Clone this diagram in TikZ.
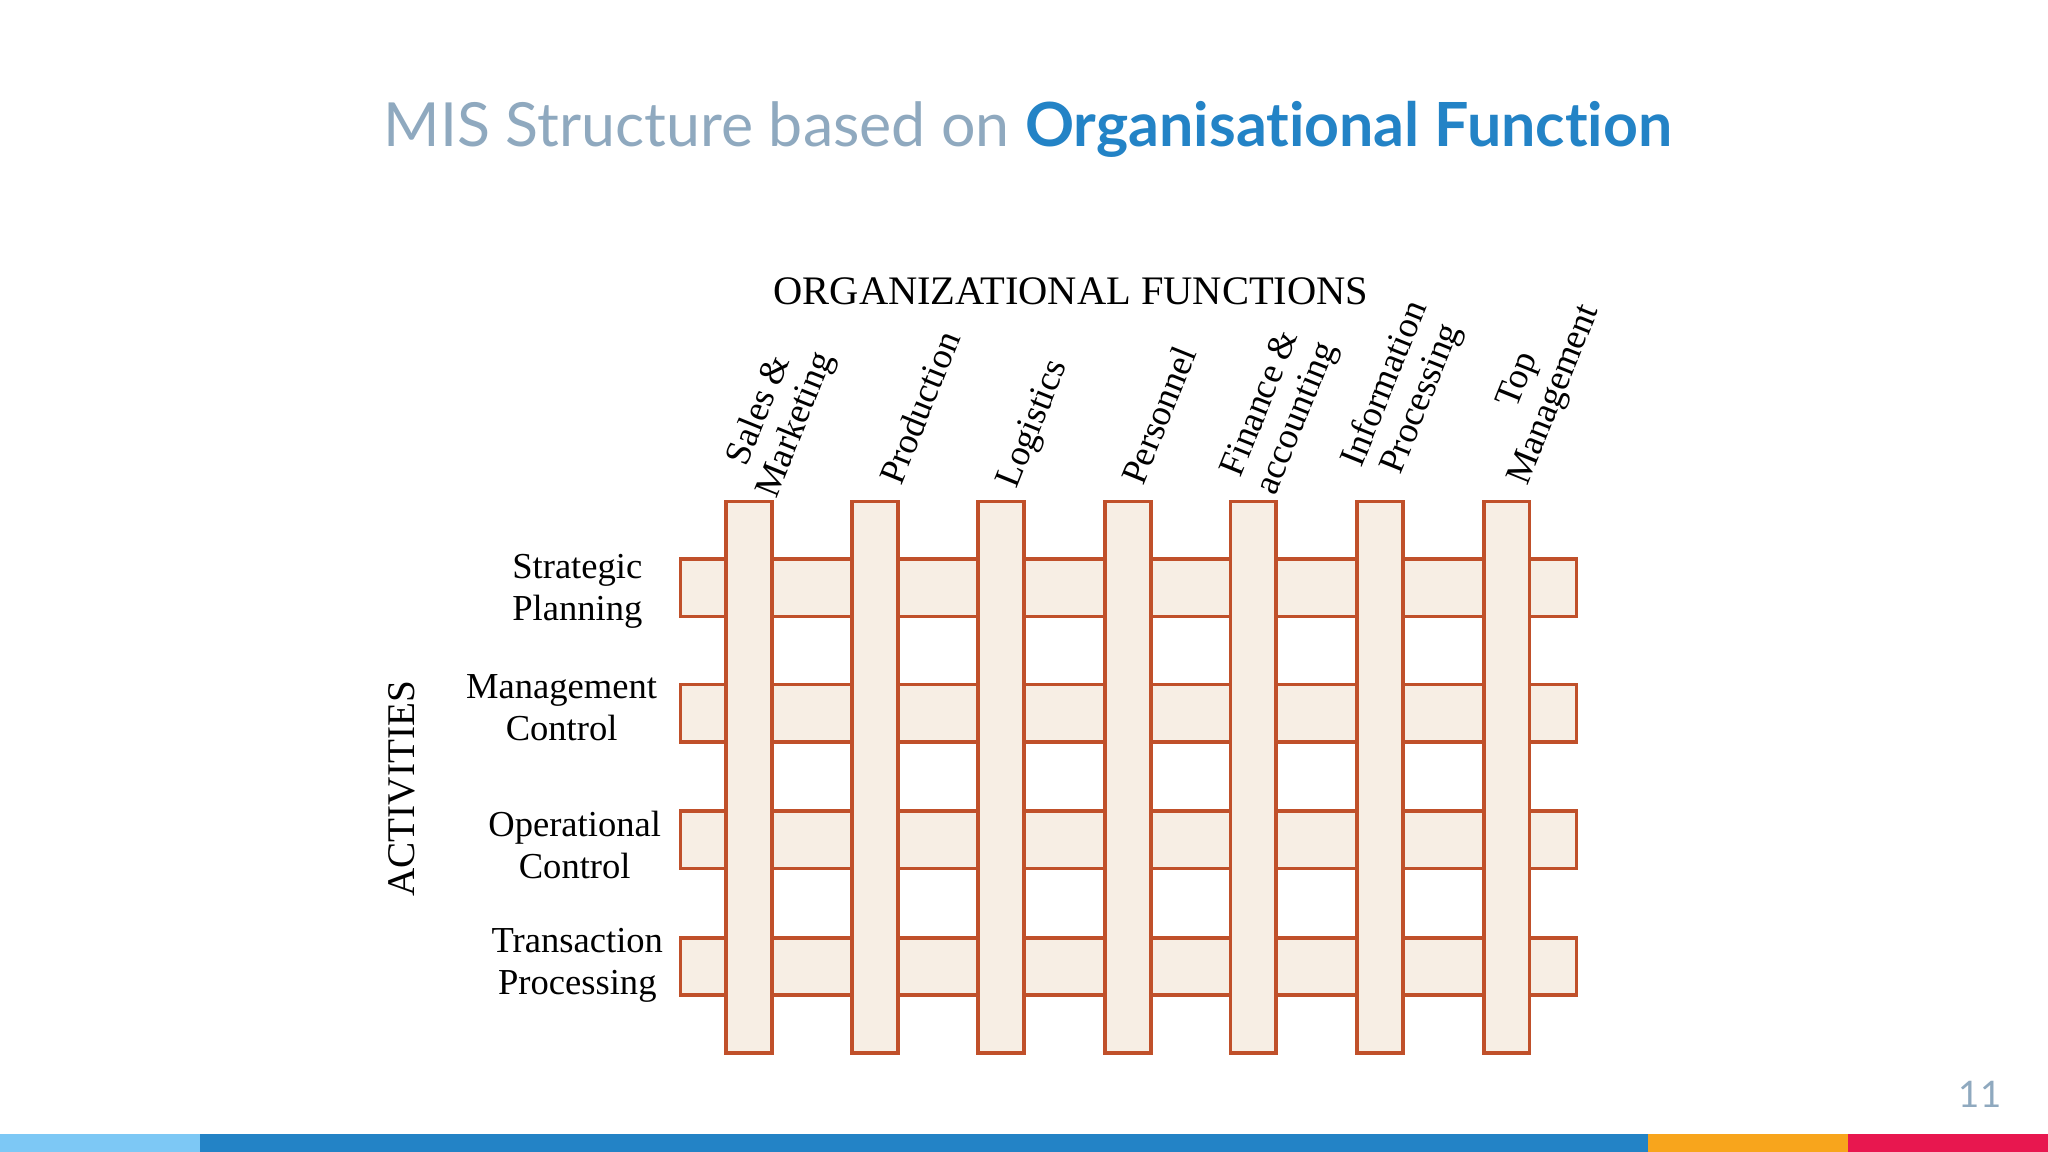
\documentclass[tikz,border=0pt]{standalone}
\usepackage{fontspec}
\setmainfont{Liberation Serif}
\newfontfamily\titlefont[Ligatures=CommonOff]{Lato}
\begin{document}
\begin{tikzpicture}[x=0.5pt,y=-0.5pt,
  bar/.style={draw=barline,fill=barfill,line width=1.4pt},
  lab/.style={align=center,font=\fontsize{14}{16}\selectfont,inner sep=0pt},
  clab/.style={align=center,font=\fontsize{14}{15}\selectfont,inner sep=0pt,rotate=68}]
\definecolor{barline}{HTML}{C0502A}
\definecolor{barfill}{HTML}{F7EEE4}
\definecolor{titlegrey}{HTML}{8FA9BF}
\definecolor{titleblue}{HTML}{2383C6}
\definecolor{footlight}{HTML}{7DC8F5}
\definecolor{footorange}{HTML}{F8A51C}
\definecolor{footred}{HTML}{E8174F}
\useasboundingbox (0,0) rectangle (1568,882);
\fill[white] (0,0) rectangle (1568,882);
% title
\node (title) at (787,99) {\titlefont\fontsize{23.3}{28}\selectfont\color{titlegrey}MIS Structure based on \textbf{\color{titleblue}Organisational Function}};
% horizontal bars
\foreach \y [count=\i] in {428,524,621,718}
  \draw[bar] (521,\y) rectangle (1207,\y+44);
% vertical bars
\foreach \x [count=\i] in {556,652.5,749,846,942,1039,1136}
  \draw[bar] (\x,384) rectangle (\x+35,806);
% labels
\node[lab] (sp) at (442,453) {Strategic\\Planning};
\node[lab] (mc) at (430,542) {Management\\Control};
\node[lab] (oc) at (440,647) {Operational\\Control};
\node[lab] (tp) at (442,739) {Transaction\\Processing};
\node[lab,rotate=90,font=\fontsize{15}{17}\selectfont] (act) at (308,604) {ACTIVITIES};
\node[lab,font=\fontsize{15.5}{17}\selectfont] (of) at (820,223) {ORGANIZATIONAL FUNCTIONS};
\node[clab] (c1) at (596,320) {Sales \&\\Marketing};
\node[clab] (c2) at (704,312) {Production};
\node[clab] (c3) at (792,325) {Logistics};
\node[clab] (c4) at (887,318) {Personnel};
\node[clab] (c5) at (980,315) {Finance \&\\accounting};
\node[clab] (c6) at (1075,300) {Information\\Processing};
\node[clab] (c7) at (1177,297) {Top\\Management};
% page number
\node (pn) at (1516,838) {\titlefont\fontsize{14}{16}\selectfont\color{titlegrey}11};
% footer
\fill[footlight] (0,868) rectangle (153,882);
\fill[titleblue] (153,868) rectangle (1262,882);
\fill[footorange] (1262,868) rectangle (1415,882);
\fill[footred] (1415,868) rectangle (1568,882);
\end{tikzpicture}
\end{document}
